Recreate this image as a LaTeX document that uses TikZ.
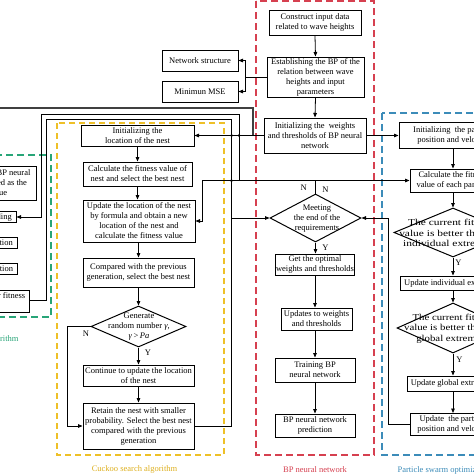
\documentclass[tikz,border=0pt]{standalone}
\usepackage{fontspec}
\setmainfont{Liberation Serif}
\usetikzlibrary{arrows.meta,shapes.geometric}
\definecolor{bpred}{RGB}{214,64,80}
\definecolor{csyel}{RGB}{238,192,40}
\definecolor{cslab}{RGB}{222,176,30}
\definecolor{psoblue}{RGB}{60,140,185}
\definecolor{gagreen}{RGB}{40,165,120}
\begin{document}
\begin{tikzpicture}[x=1pt,y=-1pt,
  every node/.style={font=\fontsize{8.5}{10}\selectfont},
  box/.style={draw=black, line width=1pt, align=center, inner sep=1pt, fill=white},
  dia/.style={draw=black, diamond, line width=1pt, inner sep=0pt, fill=white},
  txt/.style={align=center, inner sep=0pt},
  widetxt/.style={align=center, inner sep=0pt, font=\fontsize{9}{10.5}\selectfont, xscale=#1, transform shape},
  conn/.style={line width=0.8pt, -{Triangle[length=4.5pt,width=3.6pt]}},
  plain/.style={line width=0.8pt},
  grp/.style={line width=1.2pt, dash pattern=on 7pt off 4pt},
  dot/.style={fill=black}]
\useasboundingbox (0,0) rectangle (474,474);
\fill[white] (0,0) rectangle (474,474);

% group frames
\draw[grp, bpred] (256,1) rectangle (374,455);
\draw[grp, csyel, dash pattern=on 6pt off 4pt] (57,123) rectangle (224,455);
\draw[grp, psoblue] (382,113) rectangle (520,455);
\draw[grp, gagreen] (-60,155) rectangle (51,317);

\node[text=bpred] (lbp) at (315,470) {BP neural network};
\node[text=cslab] (lcs) at (134.5,469) {Cuckoo search algorithm};
\node[text=psoblue, anchor=west] (lpso) at (394,470) {Particle swarm optimization algorithm};
\node[text=gagreen, anchor=east] (lga) at (22,339) {Genetic algorithm};

% BP column
\node[box, minimum width=92, minimum height=25] (construct) at (315,22.5) {Construct input data\\related to wave heights};
\node[box, minimum width=97, minimum height=40] (establish) at (315.5,77) {Establishing the BP of the\\relation between wave\\heights and input\\parameters};
\node[box, minimum width=102, minimum height=35] (initw) at (315,135.5) {Initializing the\ \ weights\\and thresholds of BP neural\\network};
\node[box, minimum width=76, minimum height=21] (netstruct) at (200,60.5) {Network structure};
\node[box, minimum width=76, minimum height=21] (mse) at (200,91.5) {Minimun MSE};
\node[dia, minimum width=91, minimum height=48] (meet) at (315.5,218) {};
\node[txt] (meett) at (317,219) {Meeting\\the end of the\\requirements};
\node[box, minimum width=78, minimum height=21] (getopt) at (315,264.5) {Get the optimal\\weights and thresholds};
\node[box, minimum width=71, minimum height=22] (updates) at (316.5,319) {Updates to weights\\and thresholds};
\node[box, minimum width=80, minimum height=24] (training) at (315,370) {Training BP\\neural network};
\node[box, minimum width=80, minimum height=23] (predict) at (315,425.5) {BP neural network\\prediction};

% Cuckoo column
\node[box, minimum width=113, minimum height=21] (initnest) at (137.5,135.5) {Initializing the\\location of the nest};
\node[box, minimum width=109, minimum height=24] (calcfit) at (137.5,174) {Calculate the fitness value of\\nest and select the best nest};
\node[box, minimum width=112, minimum height=42] (updloc) at (139,221) {Update the location of the nest\\by formula and obtain a new\\location of the nest and\\calculate the fitness value};
\node[box, minimum width=111, minimum height=29] (compared) at (138.5,272.5) {Compared with the previous\\generation, select the best nest};
\node[dia, minimum width=95, minimum height=41] (gen) at (138.5,326.5) {};
\node[txt] (gent) at (139,327) {Generate\\random number \textit{γ},\\\textit{γ}\,\textgreater\,\textit{Pa}};
\node[box, minimum width=111, minimum height=21] (cont) at (138.5,375.5) {Continue to update the location\\of the nest};
\node[box, minimum width=111, minimum height=46] (retain) at (138.5,426) {Retain the nest with smaller\\probability. Select the best nest\\compared with the previous\\generation};

% PSO column
\node[box, minimum width=108, minimum height=26] (psoinit) at (453,135.5) {Initializing\ \ the particle\\position and velocity};
\node[box, minimum width=86, minimum height=23] (psocalc) at (453,180.5) {Calculate the fitness\\value of each particle};
\node[dia, minimum width=118, minimum height=49] (d1) at (453,232.5) {};
\node[widetxt=1.27] (d1t) at (451,233) {The current fitness\\value is better than the\\individual extremum};
\node[box, minimum width=106, minimum height=14] (updind) at (453,283) {Update individual extremum};
\node[dia, minimum width=112, minimum height=50] (d2) at (453,328) {};
\node[widetxt=1.2] (d2t) at (453,328.5) {The current fitness\\value is better than the\\global extremum};
\node[box, minimum width=92, minimum height=15] (updglob) at (453,383.5) {Update global extremum};
\node[box, minimum width=86, minimum height=22] (updpos) at (453,424.5) {Update\ \ the particle\\position and velocity};

% GA column (cut)
\node[box, minimum width=98, minimum height=34] (ga1) at (-13,183) {The weights of BP neural\\network are used as the\\initial value};
\node[box, minimum width=41, minimum height=11] (ga2) at (-4.5,217) {Encoding};
\node[box, minimum width=40, minimum height=11] (ga3) at (-3,242.5) {Selection};
\node[box, minimum width=39, minimum height=11] (ga4) at (-2.5,269) {Mutation};
\node[box, minimum width=109, minimum height=22] (ga5) at (-25.5,301) {Individuals with better fitness\\are retained};

% labels
\node (nm1) at (303.7,187.5) {N};
\node (nm2) at (325.5,189.5) {N};
\node (ym) at (325.5,247.5) {Y};
\node (ng) at (86,334) {N};
\node (yg) at (148,353) {Y};
\node (y1) at (458.5,263) {Y};
\node (y2) at (459.5,360) {Y};

% connectors
\draw[conn] (construct.south) -- (establish.north);
\draw[conn] (establish.south) -- (initw.north);
\coordinate (jE) at (245,77);
\draw[plain] (establish.west) -- (jE);
\draw[conn] (jE) |- (netstruct.east);
\draw[conn] (jE) |- (mse.east);

\coordinate (tl) at (-5,108);
\coordinate (tr) at (253,108);
\draw[line width=1.1pt, black!75] (tl) -- (tr) -- (tr |- initw.west);
\draw[conn] (initw.west) -- (initnest.east);
\draw[conn] (initw.east) -- (psoinit.west);

\coordinate (o1) at (239,180.5);
\coordinate (o2) at (239,114);
\coordinate (o3) at (41,114);
\draw[conn] (o1) -- (o2) -- (o3) |- (ga2.east);

\coordinate (h1) at (202,180.5);
\draw[conn] (h1) -- (psocalc.west);
\draw[conn] (h1) |- (updloc.east);
\draw[plain] (meet.north) -- (meet.north |- h1);

\coordinate (i1) at (231.5,119);
\coordinate (i2) at (46,119);
\coordinate (i3) at (46,300);
\draw[plain] (retain.east) -| (i1) -- (i2) -- (i3) -- (ga5.east |- i3);
\draw[conn] (i1 |- meet.west) -- (meet.west);

\coordinate (r1) at (388,424.5);
\draw[conn] (updpos.west) -- (r1) |- (meet.east);

\draw[conn] (initnest.south) -- (calcfit.north);
\draw[conn] (calcfit.south) -- (calcfit.south |- updloc.north);
\draw[conn] (updloc.south -| compared.north) -- (compared.north);
\draw[conn] (compared.south) -- (gen.north);
\draw[conn] (gen.south) -- (cont.north);
\draw[conn] (cont.south) -- (retain.north);
\coordinate (gN) at (67,326.5);
\draw[conn] (gen.west) -- (gN) |- (retain.west);

\draw[conn] (meet.south) -- (meet.south |- getopt.north);
\draw[conn] (getopt.south) -- (getopt.south |- updates.north);
\draw[conn] (updates.south -| training.north) -- (training.north);
\draw[conn] (training.south) -- (predict.north);

\draw[conn] (psoinit.south) -- (psocalc.north);
\draw[conn] (psocalc.south) -- (d1.north);
\draw[conn] (d1.south) -- (updind.north);
\draw[conn] (updind.south) -- (d2.north);
\draw[conn] (d2.south) -- (updglob.north);
\draw[conn] (updglob.south) -- (updpos.north);

\fill[dot] (231.5,135.5) circle (1.5pt);
\fill[dot] (239,135.5) circle (1.5pt);
\fill[dot] (231.5,180.5) circle (1.5pt);
\end{tikzpicture}
\end{document}
